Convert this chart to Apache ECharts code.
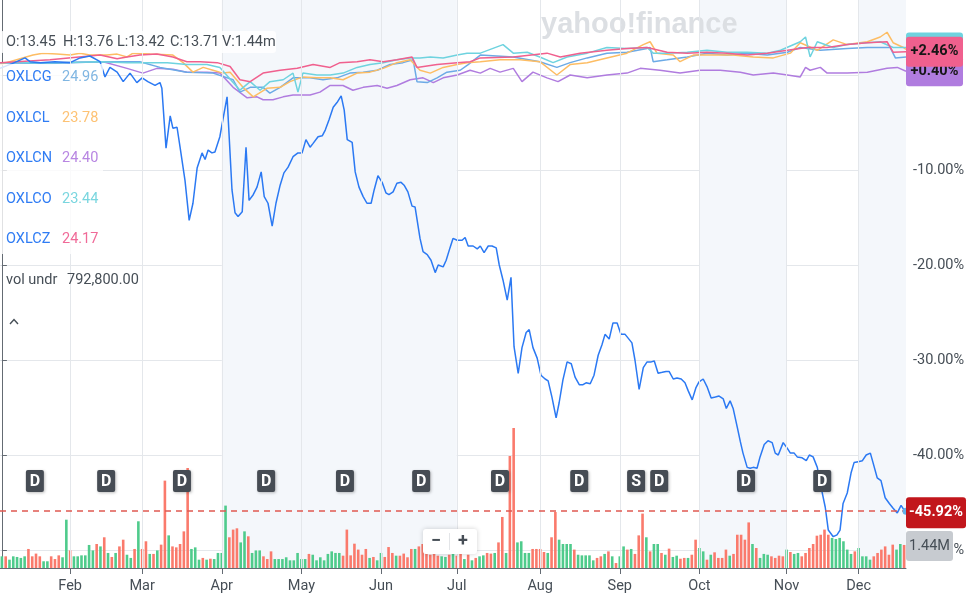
<!DOCTYPE html>
<html>
<head>
<meta charset="utf-8">
<title>OXLC</title>
<script src="https://cdn.jsdelivr.net/npm/echarts@6/dist/echarts.min.js"></script>
<style>
html, body { margin: 0; padding: 0; background: #fff; }
#chart { width: 980px; height: 604px; }
</style>
</head>
<body>
<div id="chart"></div>
<script>
// x is the trading-day index (0 = first session shown), y is % change

var FONT = 'Roboto, "Liberation Sans", sans-serif';
var FS = 14.5;
var TEXT = '#464e56';
var AXIS = '#646b73';
var GRIDC = '#e4e7eb';

var X_MIN = -0.5, X_MAX = 238.5;
var monthStarts = [18, 37, 58, 79, 100, 120, 142, 163, 184, 207, 226];
var monthNames = ['Feb', 'Mar', 'Apr', 'May', 'Jun', 'Jul', 'Aug', 'Sep', 'Oct', 'Nov', 'Dec'];
var shadedRanges = [[58, 120], [184, 207], [226, 238.5]];

var eventDays = [8.7, 27.5, 47.5, 69.7, 90.5, 110.6, 131.4, 152.3, 167.3, 173.4, 196.3, 216.4];
var eventTypes = ['D', 'D', 'D', 'D', 'D', 'D', 'D', 'D', 'S', 'D', 'D', 'D'];

var ohlc = ['O:13.45', 'H:13.76', 'L:13.42', 'C:13.71', 'V:1.44m'];
var compNames = ['OXLCG', 'OXLCL', 'OXLCN', 'OXLCO', 'OXLCZ'];
var compPrices = ['24.96', '23.78', '24.40', '23.44', '24.17'];
var compColors = ['#6caae6', '#fdbd64', '#b07cdf', '#6fd3df', '#f0608e'];
var compTextColors = ['#80b6e2', '#fdc274', '#b886e2', '#7ad6df', '#f06a98'];
var volUnderlying = '792,800.00';

// main symbol, [day, % change]
var mainLine = [
  [-0.5,0.7],[2.7,1.2],[6.1,1.8],[7.4,1.4],[10.1,1.3],[14.0,1.4],[18.0,1.3],[20.6,1.8],[23.2,2.0],[25.9,1.4],
  [27.2,-0.2],[28.5,0.8],[30.4,0.3],[32.0,-0.7],[33.8,0.2],[35.6,-0.8],[37.0,-0.3],[38.5,-0.7],[40.4,-1.1],[41.7,-0.8],
  [42.2,-1.4],[43.3,-7.7],[44.4,-4.3],[45.1,-5.6],[46.2,-5.5],[47.0,-7.6],[48.3,-11.1],[49.4,-15.3],[50.4,-13.5],[51.5,-9.8],
  [52.8,-8.2],[53.6,-8.9],[54.4,-7.9],[55.4,-8.2],[56.2,-8.1],[57.5,-6.5],[58.3,-4.7],[59.4,-2.3],[60.7,-12.1],[61.5,-14.5],
  [62.3,-14.9],[63.4,-14.4],[64.4,-7.6],[65.2,-13.2],[66.3,-12.6],[67.3,-11.8],[68.4,-10.2],[69.2,-12.8],[70.2,-13.5],[71.3,-15.9],
  [72.3,-13.5],[73.4,-11.6],[74.4,-10.3],[75.5,-9.7],[76.8,-8.6],[78.1,-8.2],[79.2,-8.2],[80.2,-6.8],[81.3,-7.6],[82.1,-7.2],
  [83.4,-6.5],[84.5,-6.4],[85.3,-5.8],[86.3,-4.7],[87.4,-3.4],[88.4,-2.9],[89.5,-2.2],[90.3,-3.7],[91.1,-6.8],[92.4,-7.1],
  [93.2,-10.2],[94.2,-11.8],[95.3,-12.8],[96.3,-13.5],[97.4,-13.5],[98.2,-12.1],[99.2,-10.6],[100.3,-11.3],[101.3,-12.4],[102.1,-12.6],
  [103.2,-12.3],[104.2,-11.4],[105.3,-11.3],[106.1,-11.6],[107.1,-12.3],[108.2,-13.8],[109.0,-13.9],[110.3,-17.2],[111.1,-18.6],[112.2,-18.9],
  [113.2,-19.5],[114.3,-20.8],[115.1,-20.0],[116.4,-20.2],[117.2,-19.5],[118.2,-18.2],[119.0,-17.2],[120.1,-17.4],[121.4,-17.4],[122.2,-17.1],
  [123.0,-18.0],[124.3,-18.0],[125.4,-18.3],[126.2,-18.0],[127.2,-18.7],[128.3,-18.0],[129.3,-18.0],[130.4,-18.2],[131.2,-20.0],[132.2,-21.6],
  [133.3,-23.7],[134.3,-21.3],[135.1,-28.6],[136.2,-31.4],[137.2,-28.7],[138.3,-27.1],[139.1,-26.8],[140.1,-28.7],[141.2,-29.8],[142.2,-31.6],
  [143.3,-32.0],[144.1,-32.2],[145.1,-33.9],[146.2,-36.1],[147.0,-34.5],[148.0,-32.1],[149.1,-30.2],[150.2,-30.4],[151.2,-31.8],[152.3,-32.6],
  [153.3,-32.6],[154.1,-32.4],[155.2,-32.5],[156.2,-31.6],[157.3,-29.5],[158.3,-28.4],[159.1,-27.3],[160.2,-27.8],[161.2,-26.1],[162.3,-26.1],
  [163.3,-27.3],[164.4,-27.3],[165.2,-27.7],[166.2,-28.2],[167.0,-30.0],[168.1,-33.1],[169.2,-30.8],[170.2,-30.2],[171.3,-30.2],[172.1,-30.1],
  [173.1,-31.4],[174.2,-31.3],[175.2,-31.2],[176.0,-31.2],[177.1,-32.0],[178.1,-31.9],[179.2,-32.0],[180.2,-32.4],[181.0,-33.2],[182.1,-34.2],
  [183.1,-32.9],[183.9,-32.3],[185.0,-32.0],[186.0,-32.8],[187.1,-34.0],[188.2,-33.9],[189.2,-33.8],[190.3,-34.1],[191.1,-35.1],[192.1,-34.3],
  [192.9,-35.1],[194.0,-37.1],[194.8,-38.6],[195.5,-39.8],[196.6,-41.3],[197.4,-41.4],[198.2,-41.3],[199.2,-41.4],[200.0,-40.2],[201.1,-38.9],
  [202.1,-38.5],[203.2,-38.7],[204.0,-39.8],[204.8,-40.0],[206.1,-38.7],[207.2,-39.3],[208.0,-39.8],[209.0,-39.8],[209.8,-40.2],[211.1,-40.3],
  [212.2,-40.6],[213.0,-40.0],[214.0,-40.2],[215.1,-41.3],[216.1,-43.4],[217.2,-45.5],[218.0,-47.9],[219.3,-48.6],[220.3,-48.4],[221.1,-47.9],
  [221.9,-45.1],[223.0,-44.0],[224.0,-41.9],[224.8,-40.8],[225.9,-40.7],[227.0,-40.6],[228.0,-40.0],[229.1,-39.8],[229.8,-40.8],[230.9,-42.4],
  [231.9,-42.7],[233.0,-44.5],[234.1,-45.1],[235.1,-45.6],[236.2,-46.1],[237.2,-45.3],[238.0,-45.8],[238.5,-45.92]
];

// comparison symbols: day positions and % change
var oxlcgX = [-0.5,12.7,25.9,36.4,41.7,48.8,55.7,61.0,62.8,65.5, 68.9,70.7,73.4,76.8,81.3,84.7,88.4,91.8,95.3,99.0,
  102.4,105.8,108.5,109.5,112.2,114.8,117.4,120.9,123.0,126.2, 134.9,141.9,146.4,149.9,154.4,159.6,164.9,170.2,171.0,171.8,
  175.5,180.8,186.0,191.3,196.6,201.9,207.2,210.6,215.9,223.0, 228.3,234.3,235.7,238.5];
var oxlcgY = [1.3,1.2,1.4,1.4,0.8,0.3,0.2,-0.5,-1.8,-1.3, -1.3,-1.9,-1.3,-0.3,-0.3,-0.5,-0.3,0.2,0.3,0.5,
  1.1,1.3,1.6,-0.7,-0.8,-0.3,0.3,0.5,1.1,2.1, 1.9,1.4,0.8,1.3,1.8,2.3,2.4,2.8,2.9,1.4,
  1.6,1.9,2.3,2.1,2.3,2.1,2.4,2.9,2.6,2.8, 2.9,2.9,1.8,1.9];

var oxlclX = [-0.5,8.2,10.8,14.5,18.0,20.6,23.2,27.7,30.4,33.0, 34.6,39.1,45.1,47.8,50.4,53.1,55.7,58.3,60.2,63.6,
  66.3,69.9,73.4,76.0,79.4,83.1,86.6,90.0,93.7,97.1, 100.6,104.2,107.7,110.3,113.0,116.4,120.1,122.7,126.2,131.4,
  136.7,141.9,146.4,149.9,154.4,159.6,164.9,169.2,171.0,172.8, 177.1,178.9,182.4,187.6,192.9,198.2,203.5,208.0,210.6,215.1,
  219.3,223.0,228.3,231.7,233.5,235.1,237.8,238.5];
var oxlclY = [1.1,2.1,2.3,2.2,2.1,2.3,2.1,2.1,2.2,1.9, 2.3,2.2,2.1,1.3,0.3,0.8,0.5,0.2,0.3,-1.3,
  -2.3,-1.4,-1.3,-0.7,-0.2,-0.3,-0.3,-0.5,0.2,0.3, 0.7,1.3,1.6,0.5,0.2,0.8,1.1,1.3,1.4,1.6,
  1.6,1.4,0,1.1,1.3,1.8,2.3,3.2,3.5,2.3, 2.1,1.4,2.1,2.1,2.1,1.9,1.8,2.3,3.4,2.6,
  3.7,3.2,3.5,4.0,4.5,3.4,2.9,2.7];

var oxlcnX = [-0.5,12.7,26.7,33.0,37.2,40.9,45.1,48.8,54.1,57.5, 61.0,64.7,67.3,68.9,71.5,74.2,76.8,81.3,83.9,86.6,
  90.0,92.6,95.3,99.0,101.6,104.2,107.7,111.1,113.8,116.4, 120.1,123.5,126.2,128.8,131.4,134.9,137.2,140.1,143.8,146.7,
  149.9,154.4,159.6,164.9,168.4,173.6,178.9,184.2,189.5,194.8, 198.2,203.5,207.2,210.6,212.0,213.2,215.9,217.7,223.0,228.3,
  233.5,236.2,238.5];
var oxlcnY = [1.3,1.3,1.4,0.7,0.2,0.7,0.6,0.3,0.3,0.2, -1.3,-2.4,-2.3,-2.6,-2.6,-2.3,-2.1,-2.1,-1.8,-1.1,
  -1.1,-1.6,-1.3,-1.1,-1.4,-1.1,-0.5,-0.3,-0.8,-0.3, 0,0.5,0.2,0.7,0.3,0.7,-0.7,0.3,-0.3,-0.7,
  0,-0.3,0,0.2,0.7,0.5,0.2,0.5,0.5,0.3, 0,0.2,0,-0.2,0.8,0.5,0.8,0.2,0.2,0.3,
  0.7,0.8,0.4];

var oxlcoX = [-0.5,12.7,25.9,33.0,37.2,43.6,48.8,54.1,57.5,61.0, 62.8,65.5,68.1,70.7,74.2,76.8,78.1,79.4,83.1,86.6,
  90.0,93.7,97.1,100.6,104.2,107.7,110.3,113.0,116.4,120.1, 122.7,126.2,132.2,134.9,138.6,141.9,145.4,149.1,154.4,159.6,
  164.9,170.2,171.8,175.5,180.8,186.0,191.3,196.6,201.9,205.4, 210.6,212.0,213.2,215.1,219.3,223.0,228.3,231.7,235.1,238.5];
var oxlcoY = [1.3,1.3,1.4,1.3,1.3,1.3,1.1,1.1,0.8,-0.8, -1.6,-0.7,-1.6,-0.7,-0.5,0.2,-1.8,0.2,0,0,
  0.2,0.8,1.1,1.3,1.6,1.8,1.8,1.9,1.8,2.1, 2.3,2.3,3.2,2.3,2.4,1.9,1.3,1.9,2.3,2.9,
  2.8,2.9,2.3,2.3,2.4,2.6,2.4,2.4,2.3,2.6, 3.5,4.0,1.9,3.5,2.9,3.2,3.4,3.5,2.9,2.9];

var oxlczX = [-0.5,12.7,25.9,30.4,33.0,36.4,40.9,45.1,48.8,52.3, 56.8,60.2,62.8,65.5,68.9,73.4,77.9,82.1,86.6,89.2,
  93.7,97.1,100.6,104.2,108.2,109.5,114.8,120.1,123.5,126.2, 134.9,143.8,147.3,152.5,159.6,164.9,170.2,175.5,180.8,186.0,
  191.3,196.6,201.9,207.2,212.4,217.7,223.0,228.3,233.5,235.1, 238.5];
var oxlczY = [1.3,1.6,2.1,1.7,1.9,2.1,2.2,1.9,1.4,1.4, 1.3,0.9,-0.5,-0.7,0.2,0.5,0.7,1.1,0.8,1.3,
  1.4,1.6,1.4,1.6,1.9,0.8,1.1,1.3,1.4,1.8, 1.9,2.3,1.9,2.3,2.6,2.8,2.9,2.4,2.3,2.4,
  2.3,2.1,2.3,2.6,2.9,2.9,3.2,3.4,3.5,2.4, 2.46];

// daily volume in millions, one per trading day
var volumeM = [
  .73,.73,.52,.73,.69,.63,.73,1.19,.73,.9, .73,.42,.42,.73,.56,.79,.67,3.02,1.1,.73,
  .73,.79,.79,1.44,1.1,1.5,1.35,1.92,.94,.69, .94,1.35,1.77,.83,.63,1.19,2.92,1.19,1.67,.88,
  .88,1.1,1.46,5.46,2.04,1.35,1.29,1.5,2.29,6.25, 1.19,1.29,.52,.63,.52,.58,.56,.94,.94,
  3.9,1.92,2.4,2.48,1.6,2.29,1.98,.94,1.1,1.1, .73,.56,1.04,.56,.56,.56,.67,.48,.48,.94,
  .56,.56,.88,.83,.48,.67,.48,.88,
  1.04,.94,.94,.77,2.4,.79,1.52,1.15,.83,1.19, .63,.69,.48,.94,.69,1.31,.94,.77,.77,.9,
  .67,1.19,1.19,1.35,1.5,1.6,.83,1.35,.77,.73, .69,.83,.88,.77,.9,.56,.83,.48,.63,.73,
  .79,.94,.9,.94,1.6,3.19,.94,7.0,8.75,1.6, 1.67,.94,.94,1.19,1.19,1.19,1.0,.94,1.92,3.5,
  1.77,1.5,1.5,1.5,1.15,.83,.79,.79,.79,.48, .63,.73,.88,1.04,.73,.31,.73,1.35,1.15,1.19,
  .88,2.04,3.4,1.92,1.04,1.5,1.5,
  .94,.83,1.21,.69,.77,.58,.63,.63,.83,1.77,
  1.25,1.04,.52,.83,.98,.63,.63,1.15,.77,.88, 2.08,2.08,1.77,2.85,1.5,1.25,.63,.88,.83,.73, .63,.77,.73,
  1.15,1.0,.88,.94,.73,.94,1.25,1.5,2.02,2.08, 2.4,2.08,1.88,1.81,1.88,1.67,1.15,.88,1.04,
  1.25,.73,.73,.52,.73,.94,1.15,1.35,.83,1.46,1.15,1.5,1.44
];
// g = up day, r = down day
var volumeDir = (
  'grgggggrrr' + 'rggrrrggrg' + 'gggggrgrgr' + 'grrggrgrrg' + 'rgrrgrrrrr' +
  'gggrgrggg' + 'grrrggrggg' + 'rrrggggggg' + 'ggrggggg' +
  'gggrrrrrrr' + 'grggrrrgrr' + 'rrgrrrrrrg' + 'grgrrgrgrg' + 'grrgrrgrrg' +
  'gggrrrrgrr' + 'ggggrggggg' + 'rrgrgrggrg' + 'rrrgrgg' +
  'rgrggrrgrr' + 'ggrgrrrrgrrrrrgrgggrrrr' + 'grggrrrrrrrrggggggr' + 'ggggrrrrrrggr'
).split('');

var chart = echarts.init(document.getElementById('chart'), null, { renderer: 'canvas' });

function zip(xs, ys) {
  var out = [];
  for (var i = 0; i < Math.min(xs.length, ys.length); i++) out.push([xs[i], ys[i]]);
  return out;
}

var volData = [];
for (var i = 0; i < volumeM.length; i++) {
  volData.push({
    value: [i, volumeM[i]],
    itemStyle: { color: volumeDir[i] === 'g' ? '#4fcb8c' : '#fa7a6c' }
  });
}

var comps = {
  oxlcg: zip(oxlcgX, oxlcgY),
  oxlcl: zip(oxlclX, oxlclY),
  oxlcn: zip(oxlcnX, oxlcnY),
  oxlco: zip(oxlcoX, oxlcoY),
  oxlcz: zip(oxlczX, oxlczY)
};
var lastMain = mainLine[mainLine.length - 1];

function compSeries(data, color) {
  return {
    type: 'line', xAxisIndex: 0, yAxisIndex: 0, data: data,
    showSymbol: false, silent: true, z: 3,
    lineStyle: { color: color, width: 1.5 }
  };
}

var option = {
  animation: false,
  grid: [
    { left: 0, right: 74, top: -20, height: 665, outerBoundsMode: 'none' },
    { left: 0, right: 74, top: 312, bottom: 36, outerBoundsMode: 'none' },
    { left: 0, right: 74, top: 0, bottom: 36, outerBoundsMode: 'none' }
  ],
  xAxis: [
    { gridIndex: 0, type: 'value', min: X_MIN, max: X_MAX, show: false },
    { gridIndex: 1, type: 'value', min: X_MIN, max: X_MAX, show: false },
    {
      gridIndex: 2, type: 'value', min: X_MIN, max: X_MAX,
      axisLine: { show: true, lineStyle: { color: AXIS, width: 1 } },
      axisTick: { show: true, customValues: monthStarts, length: 6, lineStyle: { color: AXIS } },
      axisLabel: {
        customValues: monthStarts, color: TEXT, fontSize: FS, fontFamily: FONT, margin: 11,
        formatter: function (v) { return monthNames[monthStarts.indexOf(v)]; }
      },
      splitLine: { show: false }
    }
  ],
  yAxis: [
    {
      gridIndex: 0, type: 'value', position: 'right', min: -60, max: 10, interval: 10,
      axisLine: { show: false },
      axisTick: { show: true, length: 5, lineStyle: { color: AXIS } },
      axisLabel: {
        color: TEXT, fontSize: FS, fontFamily: FONT, margin: 7,
        formatter: function (v) { return v.toFixed(2) + '%'; }
      },
      splitLine: { lineStyle: { color: GRIDC, width: 1 } }
    },
    { gridIndex: 1, type: 'value', min: 0, max: 16, show: false },
    {
      gridIndex: 2, type: 'value', position: 'right', min: 0, max: 1,
      axisLine: { show: true, lineStyle: { color: AXIS, width: 1 } },
      axisTick: { show: false }, axisLabel: { show: false }, splitLine: { show: false }
    }
  ],
  series: [
    // background: shaded periods and month grid lines
    {
      type: 'line', xAxisIndex: 2, yAxisIndex: 2, data: [[X_MIN, 0]], z: -1,
      showSymbol: false, silent: true, lineStyle: { opacity: 0 },
      markArea: {
        silent: true,
        itemStyle: { color: '#f4f7fb' },
        data: shadedRanges.map(function (r) { return [{ xAxis: r[0] }, { xAxis: r[1] }]; })
      },
      markLine: {
        silent: true, symbol: ['none', 'none'], label: { show: false },
        lineStyle: { color: GRIDC, type: 'solid', width: 1 },
        data: monthStarts.map(function (m) { return { xAxis: m }; })
      }
    },
    {
      type: 'bar', xAxisIndex: 1, yAxisIndex: 1, data: volData,
      barWidth: 2.6, silent: true, z: 2
    },
    compSeries(comps.oxlcn, compColors[2]),
    compSeries(comps.oxlcg, compColors[0]),
    compSeries(comps.oxlcl, compColors[1]),
    compSeries(comps.oxlco, compColors[3]),
    compSeries(comps.oxlcz, compColors[4]),
    {
      type: 'line', xAxisIndex: 0, yAxisIndex: 0, data: mainLine,
      showSymbol: false, silent: true, z: 4,
      lineStyle: { color: '#2b79f3', width: 1.5 },
      markLine: {
        silent: true, symbol: ['none', 'none'], label: { show: false },
        lineStyle: { color: '#e05a52', type: [6, 5], width: 1.5 },
        data: [{ yAxis: lastMain[1] }]
      },
      markPoint: {
        silent: true, symbol: 'circle', symbolSize: 7, label: { show: false },
        itemStyle: { color: '#62b1ea' },
        data: [{ coord: lastMain }]
      }
    }
  ]
};

chart.setOption(option);

// overlays placed through the chart's own scales
function yPct(v) { return chart.convertToPixel({ yAxisIndex: 0 }, v); }
function xDay(v) { return chart.convertToPixel({ xAxisIndex: 0 }, v); }

function label(x, y, text, color, size, weight, align) {
  return {
    type: 'text', x: x, y: y, z: 60, silent: true,
    style: {
      text: text, fill: color, fontSize: size, fontFamily: FONT,
      fontWeight: weight || 'normal', textAlign: align || 'left', textVerticalAlign: 'middle'
    }
  };
}

var g = [];

// watermark
g.push({
  type: 'text', x: 541, y: 25, z: 1, silent: true,
  style: { text: 'yahoo!finance', fill: '#dcdfe3', fontSize: 29, fontWeight: 'bold',
    fontFamily: '"Liberation Sans", Arial, sans-serif', textVerticalAlign: 'middle' }
});

// legend backgrounds
g.push({ type: 'rect', z: 50, silent: true, shape: { x: 0, y: 31, width: 276, height: 22, r: 3 },
  style: { fill: 'rgba(255,255,255,0.85)' } });
g.push({ type: 'rect', z: 50, silent: true, shape: { x: 0, y: 64, width: 103, height: 190 },
  style: { fill: 'rgba(255,255,255,0.8)' } });

var ohlcX = [6, 63, 117, 170, 222];
ohlc.forEach(function (t, i) { g.push(label(ohlcX[i], 42, t, TEXT, FS)); });

var rowY = [77, 118, 158, 199, 239];
compNames.forEach(function (n, i) {
  g.push(label(6, rowY[i], n, '#2f7cf4', FS));
  g.push(label(62, rowY[i], compPrices[i], compTextColors[i], FS));
});
g.push(label(6, 280, 'vol undr', TEXT, FS));
g.push(label(67, 280, volUnderlying, TEXT, FS));
g.push({ type: 'polyline', z: 60, silent: true, shape: { points: [[10, 324], [14, 319.5], [18, 324]] },
  style: { stroke: TEXT, lineWidth: 1.4, fill: null } });

// dividend / split markers
eventDays.forEach(function (day, i) {
  var x = xDay(day);
  g.push({ type: 'rect', z: 55, silent: true, shape: { x: x - 9, y: 470, width: 18, height: 22, r: 2 },
    style: { fill: '#464c54', shadowBlur: 3, shadowOffsetX: 1, shadowOffsetY: 1, shadowColor: 'rgba(0,0,0,0.25)' } });
  g.push(label(x, 481.5, eventTypes[i], '#ffffff', 16, 'bold', 'center'));
});

// zoom buttons
g.push({ type: 'rect', z: 55, silent: true, shape: { x: 423, y: 529, width: 54, height: 25, r: 3 },
  style: { fill: '#ffffff', shadowBlur: 5, shadowColor: 'rgba(0,0,0,0.18)' } });
g.push({ type: 'line', z: 56, silent: true, shape: { x1: 449.5, y1: 533, x2: 449.5, y2: 550 },
  style: { stroke: '#e3e5e8', lineWidth: 1 } });
g.push(label(436, 541, '\u2212', TEXT, 18, 'bold', 'center'));
g.push(label(463, 541, '+', TEXT, 18, 'bold', 'center'));

// last value badges on the right axis
var badgeSeries = [comps.oxlcg, comps.oxlcl, comps.oxlco, comps.oxlcn, comps.oxlcz];
var badgeColors = [compColors[0], compColors[1], compColors[3], compColors[2], compColors[4]];
badgeSeries.forEach(function (s, i) {
  var v = s[s.length - 1][1];
  var y = yPct(v);
  g.push({ type: 'rect', z: 70 + i, silent: true, shape: { x: 906, y: y - 15, width: 57, height: 30, r: 3 },
    style: { fill: badgeColors[i] } });
  var t = label(934.5, y, (v >= 0 ? '+' : '') + v.toFixed(2) + '%', '#161616', FS, 'bold', 'center');
  t.z = 70 + i;
  g.push(t);
});

var yMain = yPct(lastMain[1]);
g.push({ type: 'rect', z: 80, silent: true, shape: { x: 906, y: yMain - 14, width: 60, height: 31, r: 3 },
  style: { fill: '#c2161c' } });
var tm = label(936, yMain + 1.5, lastMain[1].toFixed(2) + '%', '#ffffff', FS, 'bold', 'center');
tm.z = 81;
g.push(tm);

var lastVol = volumeM[volumeM.length - 1];
var yVol = chart.convertToPixel({ yAxisIndex: 1 }, lastVol);
g.push({ type: 'rect', z: 80, silent: true, shape: { x: 906, y: yVol - 14, width: 47, height: 30, r: 3 },
  style: { fill: '#c7cbd0' } });
var tv = label(929.5, yVol + 1, lastVol.toFixed(2) + 'M', TEXT, FS, 'normal', 'center');
tv.z = 81;
g.push(tv);

chart.setOption({ graphic: { elements: g } });
</script>
</body>
</html>
